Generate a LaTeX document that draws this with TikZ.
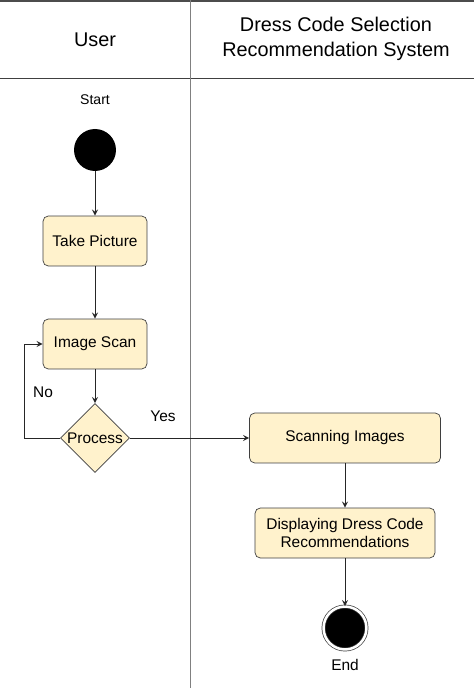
\documentclass[tikz,border=0pt]{standalone}
\usepackage{fontspec}
\setmainfont{Liberation Sans}
\usetikzlibrary{shapes.geometric}
\definecolor{actfill}{HTML}{FFF2CC}
\definecolor{actline}{HTML}{3F3F3F}
\begin{document}
\begin{tikzpicture}[x=0.02cm,y=-0.02cm,
    act/.style={rectangle,rounded corners=3pt,draw=actline,fill=actfill,
      align=center,font=\fontsize{8.8}{10}\selectfont},
    flow/.style={-stealth,line width=0.55pt,black!85}]
        \useasboundingbox (0,0) rectangle (474,688);
        % lanes
        \draw[line width=1.6pt,black!70] (0,1) -- (474,1);
        \draw[black!75] (0,78) -- (474,78);
        \draw[black!50] (190,0) -- (190,688);
        \node[font=\fontsize{11.3}{13}\selectfont] (user) at (95,40) {User};
        \node[font=\fontsize{11.3}{14}\selectfont,align=center] (sys) at (336,39) {Dress Code Selection\\Recommendation System};
        % user lane
        \node[font=\fontsize{8}{9}\selectfont] (startlbl) at (95,100) {Start};
        \node[circle,fill=black,minimum size=0.84cm,inner sep=0pt] (start) at (95,150) {};
        \node[act,minimum width=2.08cm,minimum height=1cm] (take) at (95,241) {Take Picture};
        \node[act,minimum width=2.08cm,minimum height=1cm] (scan) at (95,344) {Image Scan};
        \node[diamond,draw=actline,fill=actfill,minimum size=1.38cm,inner sep=0pt,
          font=\fontsize{8.8}{10}\selectfont] (proc) at (95,438) {Process};
        % system lane
        \node[act,minimum width=3.82cm,minimum height=1cm] (scanimg) at (345,438) {Scanning Images};
        \node[act,minimum width=3.6cm,minimum height=1cm] (disp) at (345,533) {Displaying Dress Code\\Recommendations};
        \node[circle,fill=black,draw=actline,double=white,double distance=1.4pt,
          minimum size=0.86cm,inner sep=0pt] (end) at (345,628) {};
        \node[font=\fontsize{8.8}{10}\selectfont] (endlbl) at (345,665) {End};
        % flows
        \draw[flow] (start) -- (take);
        \draw[flow] (take) -- (scan);
        \draw[flow] (scan) -- (proc);
        \draw[flow] (proc.west) -- ++(-36,0) |- (scan.west);
        \draw[flow] (proc.east) -- (scanimg.west);
        \draw[flow] (scanimg) -- (disp);
        \draw[flow] (disp) -- (end);
        \node[font=\fontsize{8.8}{10}\selectfont] at (43,392) {No};
        \node[font=\fontsize{8.8}{10}\selectfont] at (163,416) {Yes};
\end{tikzpicture}
\end{document}
